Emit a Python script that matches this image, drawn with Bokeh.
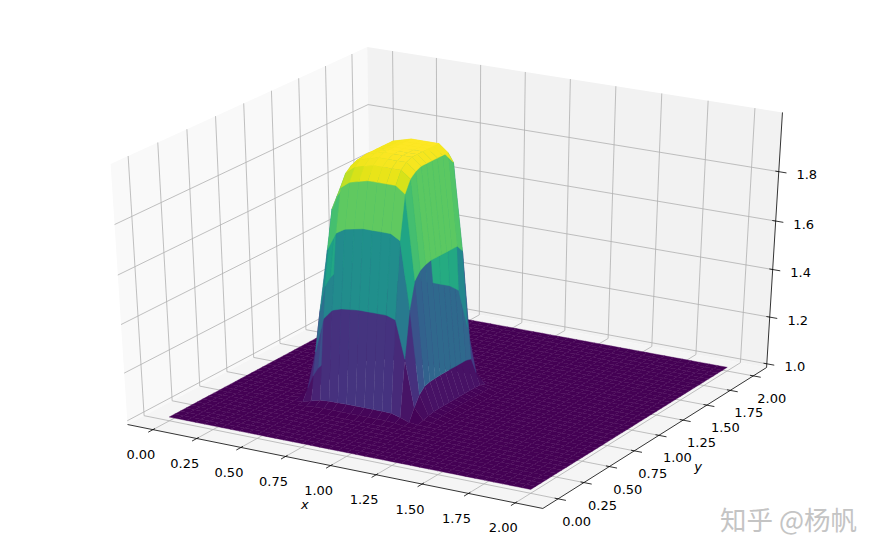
import numpy as np
from bokeh.core.properties import value
from bokeh.embed import file_html
from bokeh.palettes import Viridis256
from bokeh.plotting import figure
from bokeh.resources import INLINE

# ---- data ----
x_values = [i * 0.05 for i in range(41)]
y_values = [j * 0.05 for j in range(41)]
# height of the hump (z - 1), cross-section along x for i = 0..40
x_profile = [0] * 8 + [0.01, 0.12, 0.50, 0.85, 0.95, 0.98, 0.99, 1.0, 1.0, 1.0, 1.0, 0.97, 0.60, 0.13, 0.02, 0.01] + [0] * 17
# cross-section along y for j = 0..40
y_profile = [0] * 9 + [0.01, 0.03, 0.42, 0.74, 0.92, 0.97, 0.99, 1.0, 1.0, 1.0, 1.0, 1.0, 1.0, 0.95, 0.40, 0.05, 0.01] + [0] * 15
z_peak = 0.99
# colour read for each band of the wall: relative height of a cell -> position in the colour map
band_height = [0.0, 0.225, 0.37, 0.58, 0.78, 0.83, 0.945, 1.0]
band_colour = [0.0, 0.15, 0.35, 0.50, 0.75, 0.76, 0.97, 1.0]
x_ticks = [0.0, 0.25, 0.5, 0.75, 1.0, 1.25, 1.5, 1.75, 2.0]
y_ticks = [0.0, 0.25, 0.5, 0.75, 1.0, 1.25, 1.5, 1.75, 2.0]
z_ticks = [1.0, 1.2, 1.4, 1.6, 1.8]
x_tick_labels = ["0.00", "0.25", "0.50", "0.75", "1.00", "1.25", "1.50", "1.75", "2.00"]
y_tick_labels = ["0.00", "0.25", "0.50", "0.75", "1.00", "1.25", "1.50", "1.75", "2.00"]
z_tick_labels = ["1.0", "1.2", "1.4", "1.6", "1.8"]

X_LO, X_HI = -0.146, 2.146
Y_LO, Y_HI = -0.146, 2.146
Z_LO, Z_HI = 0.984, 2.035


def project(x, y, z):
    """Perspective view (elev 30, azim -60) mapped to the picture's pixels."""
    d0 = (np.asarray(x, float) - X_LO) / (X_HI - X_LO) - 0.5
    d1 = (np.asarray(y, float) - Y_LO) / (Y_HI - Y_LO) - 0.5
    d2 = (np.asarray(z, float) - Z_LO) / (Z_HI - Z_LO) - 0.5
    a = 0.8660254 * d0 + 0.5 * d1
    b = -0.25 * d0 + 0.4330127 * d1 + 0.8660254 * d2
    c = 0.4330127 * d0 - 0.75 * d1 + 0.5 * d2
    w = 10.0 - c
    return 451.5 + 4794.0 * a / w, 269.4 - 2975.0 * b / w, w


p = figure(width=879, height=555, x_range=(0, 879), y_range=(555, 0),
           output_backend="svg", toolbar_location=None, min_border=0)
p.axis.visible = False
p.grid.visible = False
p.outline_line_color = None
p.background_fill_color = "white"
p.border_fill_color = "white"


def pane(xs, ys, zs, color):
    u, v, _ = project(xs, ys, zs)
    p.patch(list(u), list(v), fill_color=color, line_color=None)


def polyline(xs, ys, zs, color, width):
    u, v, _ = project(xs, ys, zs)
    p.line(list(u), list(v), line_color=color, line_width=width)


pane([X_LO, X_LO, X_LO, X_LO], [Y_LO, Y_HI, Y_HI, Y_LO], [Z_LO, Z_LO, Z_HI, Z_HI], "#f9f9f9")
pane([X_LO, X_HI, X_HI, X_LO], [Y_HI, Y_HI, Y_HI, Y_HI], [Z_LO, Z_LO, Z_HI, Z_HI], "#f2f2f2")
pane([X_LO, X_HI, X_HI, X_LO], [Y_LO, Y_LO, Y_HI, Y_HI], [Z_LO, Z_LO, Z_LO, Z_LO], "#f5f5f5")

GRID = "#b0b0b0"
for t in x_ticks:
    polyline([t, t, t], [Y_LO, Y_HI, Y_HI], [Z_LO, Z_LO, Z_HI], GRID, 0.8)
for t in y_ticks:
    polyline([X_HI, X_LO, X_LO], [t, t, t], [Z_LO, Z_LO, Z_HI], GRID, 0.8)
for t in z_ticks:
    polyline([X_LO, X_LO, X_HI], [Y_LO, Y_HI, Y_HI], [t, t, t], GRID, 0.8)

# surface
xg = np.array(x_values)
yg = np.array(y_values)
XX, YY = np.meshgrid(xg, yg, indexing="ij")
ZZ = 1.0 + z_peak * np.outer(x_profile, y_profile)
zmin, zmax = ZZ.min(), ZZ.max()
U, V, W = project(XX, YY, ZZ)
quads = []
for i in range(len(xg) - 1):
    for j in range(len(yg) - 1):
        idx = [(i, j), (i + 1, j), (i + 1, j + 1), (i, j + 1)]
        depth = np.mean([W[q] for q in idx])
        mean_z = np.mean([ZZ[q] for q in idx])
        rel = (mean_z - zmin) / (zmax - zmin)
        level = int(np.interp(rel, band_height, band_colour) * 255)
        quads.append((depth, [U[q] for q in idx], [V[q] for q in idx], Viridis256[level]))
quads.sort(key=lambda q: -q[0])
p.patches([q[1] for q in quads], [q[2] for q in quads],
          fill_color=[q[3] for q in quads],
          line_color=[q[3] for q in quads], line_width=0.4)

# axes lines
AX = "#000000"
polyline([X_LO, X_HI], [Y_LO, Y_LO], [Z_LO, Z_LO], AX, 0.8)
polyline([X_HI, X_HI], [Y_LO, Y_HI], [Z_LO, Z_LO], AX, 0.8)
polyline([X_HI, X_HI], [Y_HI, Y_HI], [Z_LO, Z_HI], AX, 0.8)

# ticks
dx = (X_HI - X_LO)
dy = (Y_HI - Y_LO)
for t in x_ticks:
    polyline([t, t], [Y_LO - 0.018 * dy, Y_LO + 0.008 * dy], [Z_LO, Z_LO], AX, 0.8)
for t in y_ticks:
    polyline([X_HI - 0.008 * dx, X_HI + 0.018 * dx], [t, t], [Z_LO, Z_LO], AX, 0.8)
for t in z_ticks:
    polyline([X_HI - 0.008 * dx, X_HI + 0.018 * dx], [Y_HI, Y_HI], [t, t], AX, 0.8)


def labels(u, v, texts, size="13px", style="normal", font="DejaVu Sans", color="#000000"):
    p.text(list(u), list(v), text=texts, text_align="center", text_baseline="middle",
           text_font=value(font), text_font_size=value(size), text_font_style=style,
           text_color=color)


u, v, _ = project(x_ticks, [Y_LO] * len(x_ticks), [Z_LO] * len(x_ticks))
labels(u - 12, v + 25, x_tick_labels)
u, v, _ = project([X_HI] * len(y_ticks), y_ticks, [Z_LO] * len(y_ticks))
labels(u + 18.5, v + 22.5, y_tick_labels)
u, v, _ = project([X_HI] * len(z_ticks), [Y_HI] * len(z_ticks), z_ticks)
labels(u + 28, v + 3, z_tick_labels)

labels([304.3], [504.3], ["x"], style="italic")
labels([697.7], [466], ["y"], style="italic")
labels([788], [518], ["知乎 @杨帆"], size="26.5px", font="Noto Sans CJK SC", color="#c4c4c4")

open("out.html", "w").write(file_html(p, INLINE))
